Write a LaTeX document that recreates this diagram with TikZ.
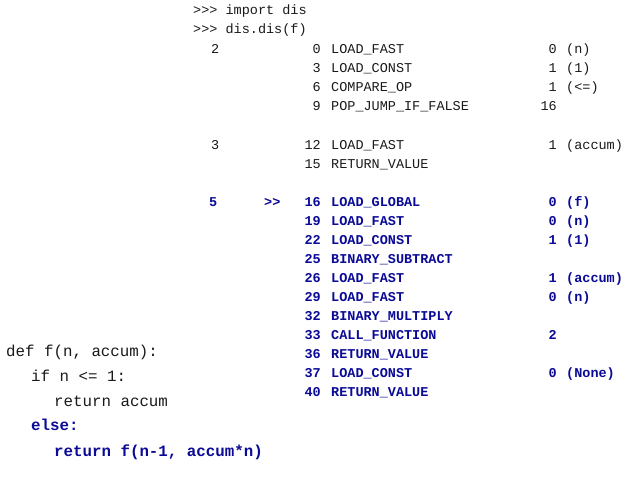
\documentclass[tikz,border=0pt]{standalone}
\usepackage{fontspec}
\setmonofont{Liberation Mono}
\definecolor{ink}{RGB}{25,25,25}
\definecolor{bl}{RGB}{10,10,150}
\begin{document}
\begin{tikzpicture}[x=1pt,y=-1pt,
  t/.style={inner sep=0pt,anchor=base west,font=\ttfamily\fontsize{13.5}{16}\selectfont,text=ink},
  r/.style={t,anchor=base east},
  b/.style={t,font=\ttfamily\bfseries\fontsize{13.5}{16}\selectfont,text=bl},
  br/.style={b,anchor=base east},
  c/.style={t,font=\ttfamily\fontsize{15.8}{18}\selectfont},
  cb/.style={c,font=\ttfamily\bfseries\fontsize{15.8}{18}\selectfont,text=bl}]
\useasboundingbox (0,0) rectangle (638,479);
\node[t] (h1) at (193,15) {>>> import dis};
\node[t] (h2) at (193,34) {>>> dis.dis(f)};
\node[t] (l2) at (211,53) {2};
\foreach \y/\o/\op/\a/\b [count=\i] in {53/0/LOAD\_FAST/0/(n),72/3/LOAD\_CONST/1/(1),91/6/COMPARE\_OP/1/(<=),110/9/POP\_JUMP\_IF\_FALSE/16/}{
  \node[r] (o\i) at (321,\y) {\o};
  \node[t] (p\i) at (331,\y) {\op};
  \node[r] (a\i) at (557,\y) {\a};
  \node[t] (q\i) at (566,\y) {\b};
}
\node[t] (l3) at (211,149) {3};
\node[r] (o5) at (321,149) {12};
\node[t] (p5) at (331,149) {LOAD\_FAST};
\node[r] (a5) at (557,149) {1};
\node[t] (q5) at (566,149) {(accum)};
\node[r] (o6) at (321,168) {15};
\node[t] (p6) at (331,168) {RETURN\_VALUE};
\node[b] (l5) at (209,206) {5};
\node[b] (jm) at (264,206) {>>};
\foreach \y/\o/\op/\a/\b [count=\i] in {206/16/LOAD\_GLOBAL/0/(f),225/19/LOAD\_FAST/0/(n),244/22/LOAD\_CONST/1/(1),263/25/BINARY\_SUBTRACT//,282/26/LOAD\_FAST/1/(accum),301/29/LOAD\_FAST/0/(n),320/32/BINARY\_MULTIPLY//,339/33/CALL\_FUNCTION/2/,358/36/RETURN\_VALUE//,377/37/LOAD\_CONST/0/(None),396/40/RETURN\_VALUE//}{
  \node[br] (bo\i) at (321,\y) {\o};
  \node[b] (bp\i) at (331,\y) {\op};
  \node[br] (ba\i) at (557,\y) {\a};
  \node[b] (bq\i) at (566,\y) {\b};
}
\node[c] (d1) at (6,356) {def f(n, accum):};
\node[c] (d2) at (31,381) {if n <= 1:};
\node[c] (d3) at (54,406) {return accum};
\node[cb] (d4) at (31,430) {else:};
\node[cb] (d5) at (54,456) {return f(n-1, accum*n)};
\end{tikzpicture}
\end{document}
